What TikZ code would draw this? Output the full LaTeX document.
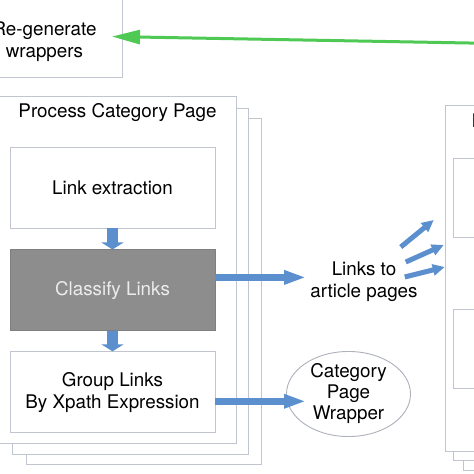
\documentclass[tikz,border=0pt]{standalone}
\usepackage{fontspec}
\setmainfont{TeX Gyre Heros}
\usepackage{xcolor}
\usepackage{tikz}
\usetikzlibrary{
  positioning,
  arrows.meta,
  shapes.geometric,
  calc
}
\definecolor{framegray}{RGB}{192,197,207}
\definecolor{classbg}{RGB}{141,141,141}
\definecolor{classtext}{RGB}{236,236,236}
\definecolor{flowblue}{RGB}{92,143,205}
\definecolor{regengreen}{RGB}{77,201,84}
\newcommand{\diagfont}{\fontsize{18.8}{22}\selectfont}
\tikzset{
  sheet/.style={
    draw=framegray, fill=white, line width=0.9pt
  },
  stepnode/.style={
    draw=framegray, fill=white, line width=0.9pt,
    minimum width=205pt, minimum height=81pt, inner sep=0pt,
    font=\diagfont, align=center
  },
  classnode/.style={
    stepnode, draw=classbg!90!black, fill=classbg, text=classtext
  },
  textnode/.style={
    font=\diagfont, align=center, inner sep=4pt
  },
  wrapnode/.style={
    ellipse, draw=framegray!90!black, fill=white, line width=0.9pt,
    minimum width=124pt, minimum height=83pt, inner sep=0pt,
    font=\fontsize{18.8}{21}\selectfont, align=center
  },
  downarrow/.style={
    -{Triangle[length=7pt,width=22pt]}, line width=11pt, draw=flowblue
  },
  flowarrow/.style={
    -{Triangle[length=22pt,width=13pt]}, line width=6.5pt, draw=flowblue
  },
  fanarrow/.style={
    -{Triangle[length=12pt,width=11pt]}, line width=5pt, draw=flowblue
  },
  backarrow/.style={
    -{Triangle[length=28pt,width=14pt]}, line width=3pt, draw=regengreen
  }
}

\begin{document}
\begin{tikzpicture}[x=1pt, y=-1pt]
    \useasboundingbox (0,0) rectangle (474,474);

    % re-generate box (cut at the page edge)
    \node[sheet, anchor=south east, minimum width=170pt, minimum height=82pt] (regen) at (123,78) {};
    \node[textnode] (regentxt) at (44.5,42) {Re-generate\\wrappers};

    % stack of category pages
    \draw[sheet] (26,118) rectangle (261,464);
    \draw[sheet] (12,108) rectangle (248,454);
    \draw[sheet] (-2,96) rectangle (236,443);
    \node[textnode] (ptitle) at (117.5,113) {Process Category Page};

    \node[stepnode] (lnk) at (112.5,187.5) {Link extraction};
    \node[classnode, below=21pt of lnk] (cls) {Classify Links};
    \node[stepnode, below=20pt of cls] (grp) {Group Links\\By Xpath Expression};

    % stack of article pages (cut at the page edge)
    \draw[sheet] (463,125) rectangle (490,470);
    \draw[sheet] (453,115) rectangle (490,460);
    \draw[sheet] (445,105) rectangle (490,451);
    \draw[sheet] (453,158) rectangle (490,237);
    \draw[sheet] (453,309) rectangle (490,388);
    \node[font=\diagfont, inner sep=0pt, anchor=base west] (atitle) at (471.5,127) {P};

    \node[textnode] (links) at (364,282) {Links to\\article pages};
    \node[wrapnode] (wrap) at (348.5,394) {Category\\Page\\Wrapper};

    \draw[downarrow] (lnk.south) -- (cls.north);
    \draw[downarrow] (cls.south) -- (grp.north);

    \draw[flowarrow] ([yshift=13pt]cls.east) -- ([yshift=13pt]cls.east -| links.west);
    \coordinate (grpout) at ([yshift=-9pt]grp.east);
    \draw[flowarrow] (grpout) -- ($(grpout -| wrap.west)+(20,0)$);

    \foreach \sx/\sy/\ex/\ey in {-21/-35/12/-62, -16/-20/22/-37, -17/-5/23/-15}
      \draw[fanarrow] ($(links.east)+(\sx,\sy)$) -- ($(links.east)+(\ex,\ey)$);

    \coordinate (greensrc) at (480,43.2);
    \draw[backarrow] (greensrc) -- ([xshift=-11pt]regen.east);

  \end{tikzpicture}
\end{document}
